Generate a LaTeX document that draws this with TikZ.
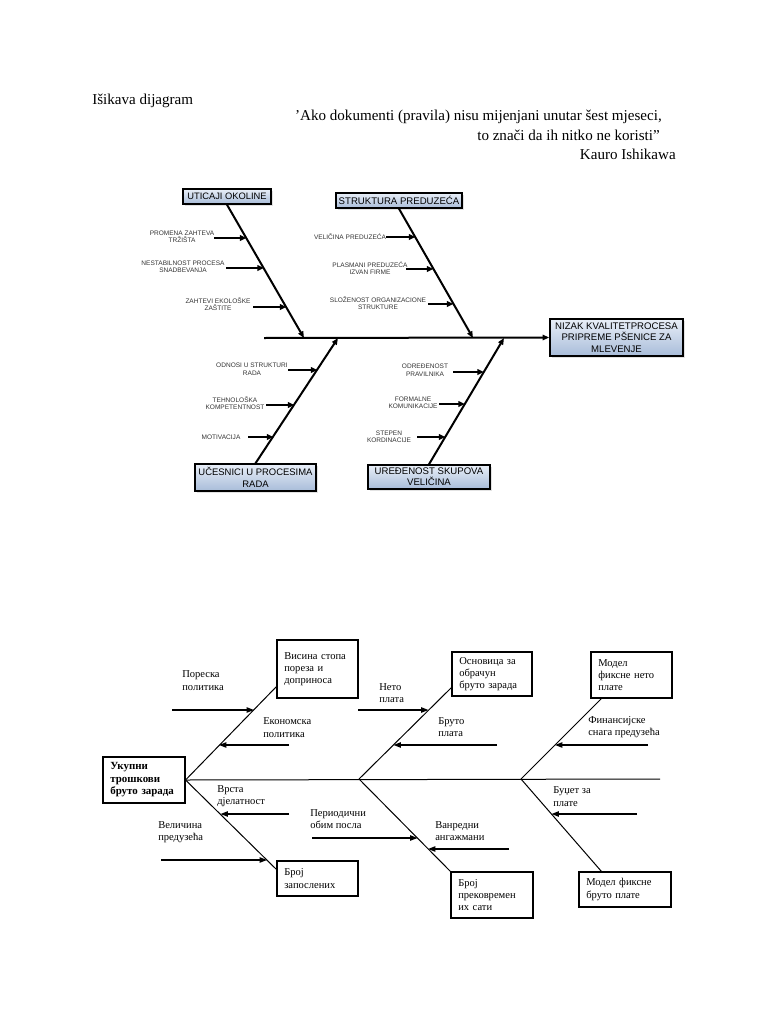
\documentclass[tikz,border=0pt]{standalone}
\usepackage{fontspec}
\setmainfont{Liberation Serif}
\newfontfamily\arialf{Liberation Sans}
\usetikzlibrary{arrows.meta,shadows,calc}
\definecolor{bxtop}{HTML}{E9EFF8}
\definecolor{bxbot}{HTML}{A8BCD9}
\begin{document}
\begin{tikzpicture}[x=0.75pt,y=-0.75pt,
  hdr/.style={inner sep=0pt,font=\fontsize{11.3}{13}\selectfont},
  fbox/.style={draw=black,line width=1.1pt,top color=bxtop,bottom color=bxbot,
    drop shadow={shadow xshift=1.8pt,shadow yshift=-1.8pt,fill=gray!45},
    inner sep=0pt,align=center,font=\arialf\fontsize{7.2}{8.4}\selectfont},
  sl/.style={inner sep=0pt,align=center,font=\arialf\fontsize{4.9}{5.6}\selectfont,text=black!80},
  bone/.style={line width=1.5pt,-{Triangle[length=5pt,width=4pt]}},
  sarr/.style={line width=1.3pt,-{Triangle[length=5pt,width=4.2pt]}},
  cbox/.style={draw=black,line width=0.8pt,align=left,inner xsep=5.5pt,inner ysep=0pt,
    font=\fontsize{7.9}{9.2}\selectfont},
  clab/.style={anchor=west,align=left,inner sep=0pt,font=\fontsize{7.9}{9.2}\selectfont},
  bl/.style={line width=0.75pt},
  carr/.style={line width=0.9pt,-{Triangle[length=5.5pt,width=4pt]}}
]
\useasboundingbox (0,0) rectangle (768,1024);

% ---------- header ----------
\node[hdr,anchor=west] (title) at (92,101) {Išikava dijagram};
\node[hdr,anchor=east] (q1) at (662,117) {'Ako dokumenti (pravila) nisu mijenjani unutar šest mjeseci,};
\node[hdr,anchor=east] (q2) at (660,135) {to znači da ih nitko ne koristi''};
\node[hdr,anchor=east] (q3) at (676,154) {Kauro Ishikawa};

% ---------- top fishbone ----------
\node[fbox,minimum width=66pt,minimum height=11.25pt,font=\arialf\fontsize{7}{8.4}\selectfont] (ut) at (227,196.5) {UTICAJI OKOLINE};
\node[fbox,minimum width=94.5pt,minimum height=11.25pt] (st) at (399,200.5) {STRUKTURA PREDUZEĆA};
\node[fbox,minimum width=90.75pt,minimum height=20.25pt,font=\arialf\fontsize{7.1}{8.5}\selectfont] (uc) at (255.5,477.5) {UČESNICI U PROCESIMA\\RADA};
\node[fbox,minimum width=91.5pt,minimum height=18pt,font=\arialf\fontsize{7.2}{8.4}\selectfont] (ur) at (429,477) {UREĐENOST SKUPOVA\\VELIČINA};
\node[fbox,minimum width=99.75pt,minimum height=27.75pt] (ef) at (616.5,337.5) {NIZAK KVALITETPROCESA\\PRIPREME PŠENICE ZA\\MLEVENJE};

\coordinate (sp0) at (264,338);
\coordinate (j1) at (304,338);
\coordinate (j2) at (473,338);
\coordinate (j3) at (338,338);
\coordinate (j4) at (504,338);
\draw[bone] (sp0) -- (ef.west);
\draw[bone] (ut.south) -- (j1);
\draw[bone] (st.south) -- (j2);
\draw[bone] (uc.north) -- (j3);
\draw[bone] (ur.north) -- (j4);

% labels and arrows: UTICAJI OKOLINE
\node[sl] (a1) at (182,237) {PROMENA ZAHTEVA\\TRŽIŠTA};
\node[sl] (a2) at (183,267) {NESTABILNOST PROCESA\\SNADBEVANJA};
\node[sl] (a3) at (218,304) {ZAHTEVI EKOLOŠKE\\ZAŠTITE};
\coordinate (a1t) at (214,238); \coordinate (a1h) at (246.5,238);
\coordinate (a2t) at (226,268); \coordinate (a2h) at (264,268);
\coordinate (a3t) at (253,307); \coordinate (a3h) at (286.5,307);
\draw[sarr] (a1t) -- (a1h);
\draw[sarr] (a2t) -- (a2h);
\draw[sarr] (a3t) -- (a3h);

% STRUKTURA PREDUZEĆA
\node[sl] (b1) at (350,237) {VELIČINA PREDUZEĆA};
\node[sl] (b2) at (370,268) {PLASMANI PREDUZEĆA\\IZVAN FIRME};
\node[sl] (b3) at (378,303) {SLOŽENOST ORGANIZACIONE\\STRUKTURE};
\coordinate (b1t) at (386,237); \coordinate (b1h) at (415.5,237);
\coordinate (b2t) at (406,269); \coordinate (b2h) at (433.5,269);
\coordinate (b3t) at (428,304); \coordinate (b3h) at (453.5,304);
\draw[sarr] (b1t) -- (b1h);
\draw[sarr] (b2t) -- (b2h);
\draw[sarr] (b3t) -- (b3h);

% UČESNICI U PROCESIMA RADA
\node[sl] (c1) at (252,369) {ODNOSI U STRUKTURI\\RADA};
\node[sl] (c2) at (235,403) {TEHNOLOŠKA\\KOMPETENTNOST};
\node[sl] (c3) at (221,437) {MOTIVACIJA};
\coordinate (c1t) at (288,370); \coordinate (c1h) at (317.5,370);
\coordinate (c2t) at (266,405); \coordinate (c2h) at (294.5,405);
\coordinate (c3t) at (248,437); \coordinate (c3h) at (273.5,437);
\draw[sarr] (c1t) -- (c1h);
\draw[sarr] (c2t) -- (c2h);
\draw[sarr] (c3t) -- (c3h);

% UREĐENOST SKUPOVA VELIČINA
\node[sl] (d1) at (425,370) {ODREĐENOST\\PRAVILNIKA};
\node[sl] (d2) at (413,403) {FORMALNE\\KOMUNIKACIJE};
\node[sl] (d3) at (389,437) {STEPEN\\KORDINACIJE};
\coordinate (d1t) at (453,372); \coordinate (d1h) at (484,372);
\coordinate (d2t) at (439,404); \coordinate (d2h) at (465,404);
\coordinate (d3t) at (417,437); \coordinate (d3h) at (445.5,437);
\draw[sarr] (d1t) -- (d1h);
\draw[sarr] (d2t) -- (d2h);
\draw[sarr] (d3t) -- (d3h);

% ---------- bottom fishbone ----------
\node[cbox,font=\bfseries\fontsize{8.2}{9.4}\selectfont,minimum width=61.5pt,minimum height=34.5pt,text width=50.5pt] (uk) at (144,780) {Укупни\\трошкови\\бруто зарада};
\node[cbox,minimum width=60.75pt,minimum height=43.5pt,text width=49.75pt] (vs) at (317.5,669) {Висина стопа\\пореза и\\доприноса};
\node[cbox,minimum width=60.75pt,minimum height=26.25pt,text width=49.75pt] (bz) at (317.5,878.5) {Број\\запослених};
\node[cbox,minimum width=60pt,minimum height=33pt,text width=49pt] (os) at (492,674) {Основица за\\обрачун\\бруто зарада};
\node[cbox,minimum width=61.5pt,minimum height=34.5pt,text width=50.5pt] (bp) at (492,895) {Број\\прековремен\\их сати};
\node[cbox,minimum width=60.75pt,minimum height=34.5pt,text width=49.75pt] (mn) at (631.5,675) {Модел\\фиксне нето\\плате};
\node[cbox,minimum width=69pt,minimum height=26.25pt,text width=58pt] (mb) at (625,889.5) {Модел фиксне\\бруто плате};

\coordinate (J2) at (359,779);
\coordinate (J3) at (521,779);
\coordinate (spE) at (660,779);
\draw[bl] (uk.east) -- (spE);
\draw[bl] (uk.east) -- ($(vs.south west)+(0,-12)$);
\draw[bl] (uk.east) -- ($(bz.north west)+(0,9)$);
\draw[bl] (J2) -- ($(os.south west)+(0,-9)$);
\draw[bl] (J2) -- (bp.north west);
\draw[bl] (J3) -- ($(mn.south west)+(11,0)$);
\draw[bl] (J3) -- ($(mb.north west)+(23,0)$);

% labels
\node[clab] (e1) at (182,680.5) {Пореска\\политика};
\node[clab] (e2) at (263,727.5) {Економска\\политика};
\node[clab] (e3) at (217,796.5) {Врста\\дјелатност};
\node[clab] (e4) at (158,832) {Величина\\предузећа};
\node[clab] (e5) at (310,819) {Периодични\\обим посла};
\node[clab] (e6) at (435,831) {Ванредни\\ангажмани};
\node[clab] (e7) at (379,693) {Нето\\плата};
\node[clab] (e8) at (438,727) {Бруто\\плата};
\node[clab] (e9) at (588,727) {Финансијске\\снага предузећа};
\node[clab] (e10) at (553,796.5) {Буџет за\\плате};

% arrows
\coordinate (f1t) at (172,710); \coordinate (f1h) at (254,710);
\coordinate (f2t) at (289,745); \coordinate (f2h) at (219,745);
\coordinate (f3t) at (289,814); \coordinate (f3h) at (220.5,814);
\coordinate (f4t) at (161,860); \coordinate (f4h) at (267,860);
\coordinate (f5t) at (312,838); \coordinate (f5h) at (417.5,838);
\coordinate (f6t) at (509,849); \coordinate (f6h) at (428,849);
\coordinate (f7t) at (358,710); \coordinate (f7h) at (428.5,710);
\coordinate (f8t) at (497,745); \coordinate (f8h) at (393.5,745);
\coordinate (f9t) at (648,745); \coordinate (f9h) at (555,745);
\coordinate (f10t) at (637,814); \coordinate (f10h) at (551.5,814);
\foreach \i in {1,...,10}{\draw[carr] (f\i t) -- (f\i h);}
\end{tikzpicture}
\end{document}
